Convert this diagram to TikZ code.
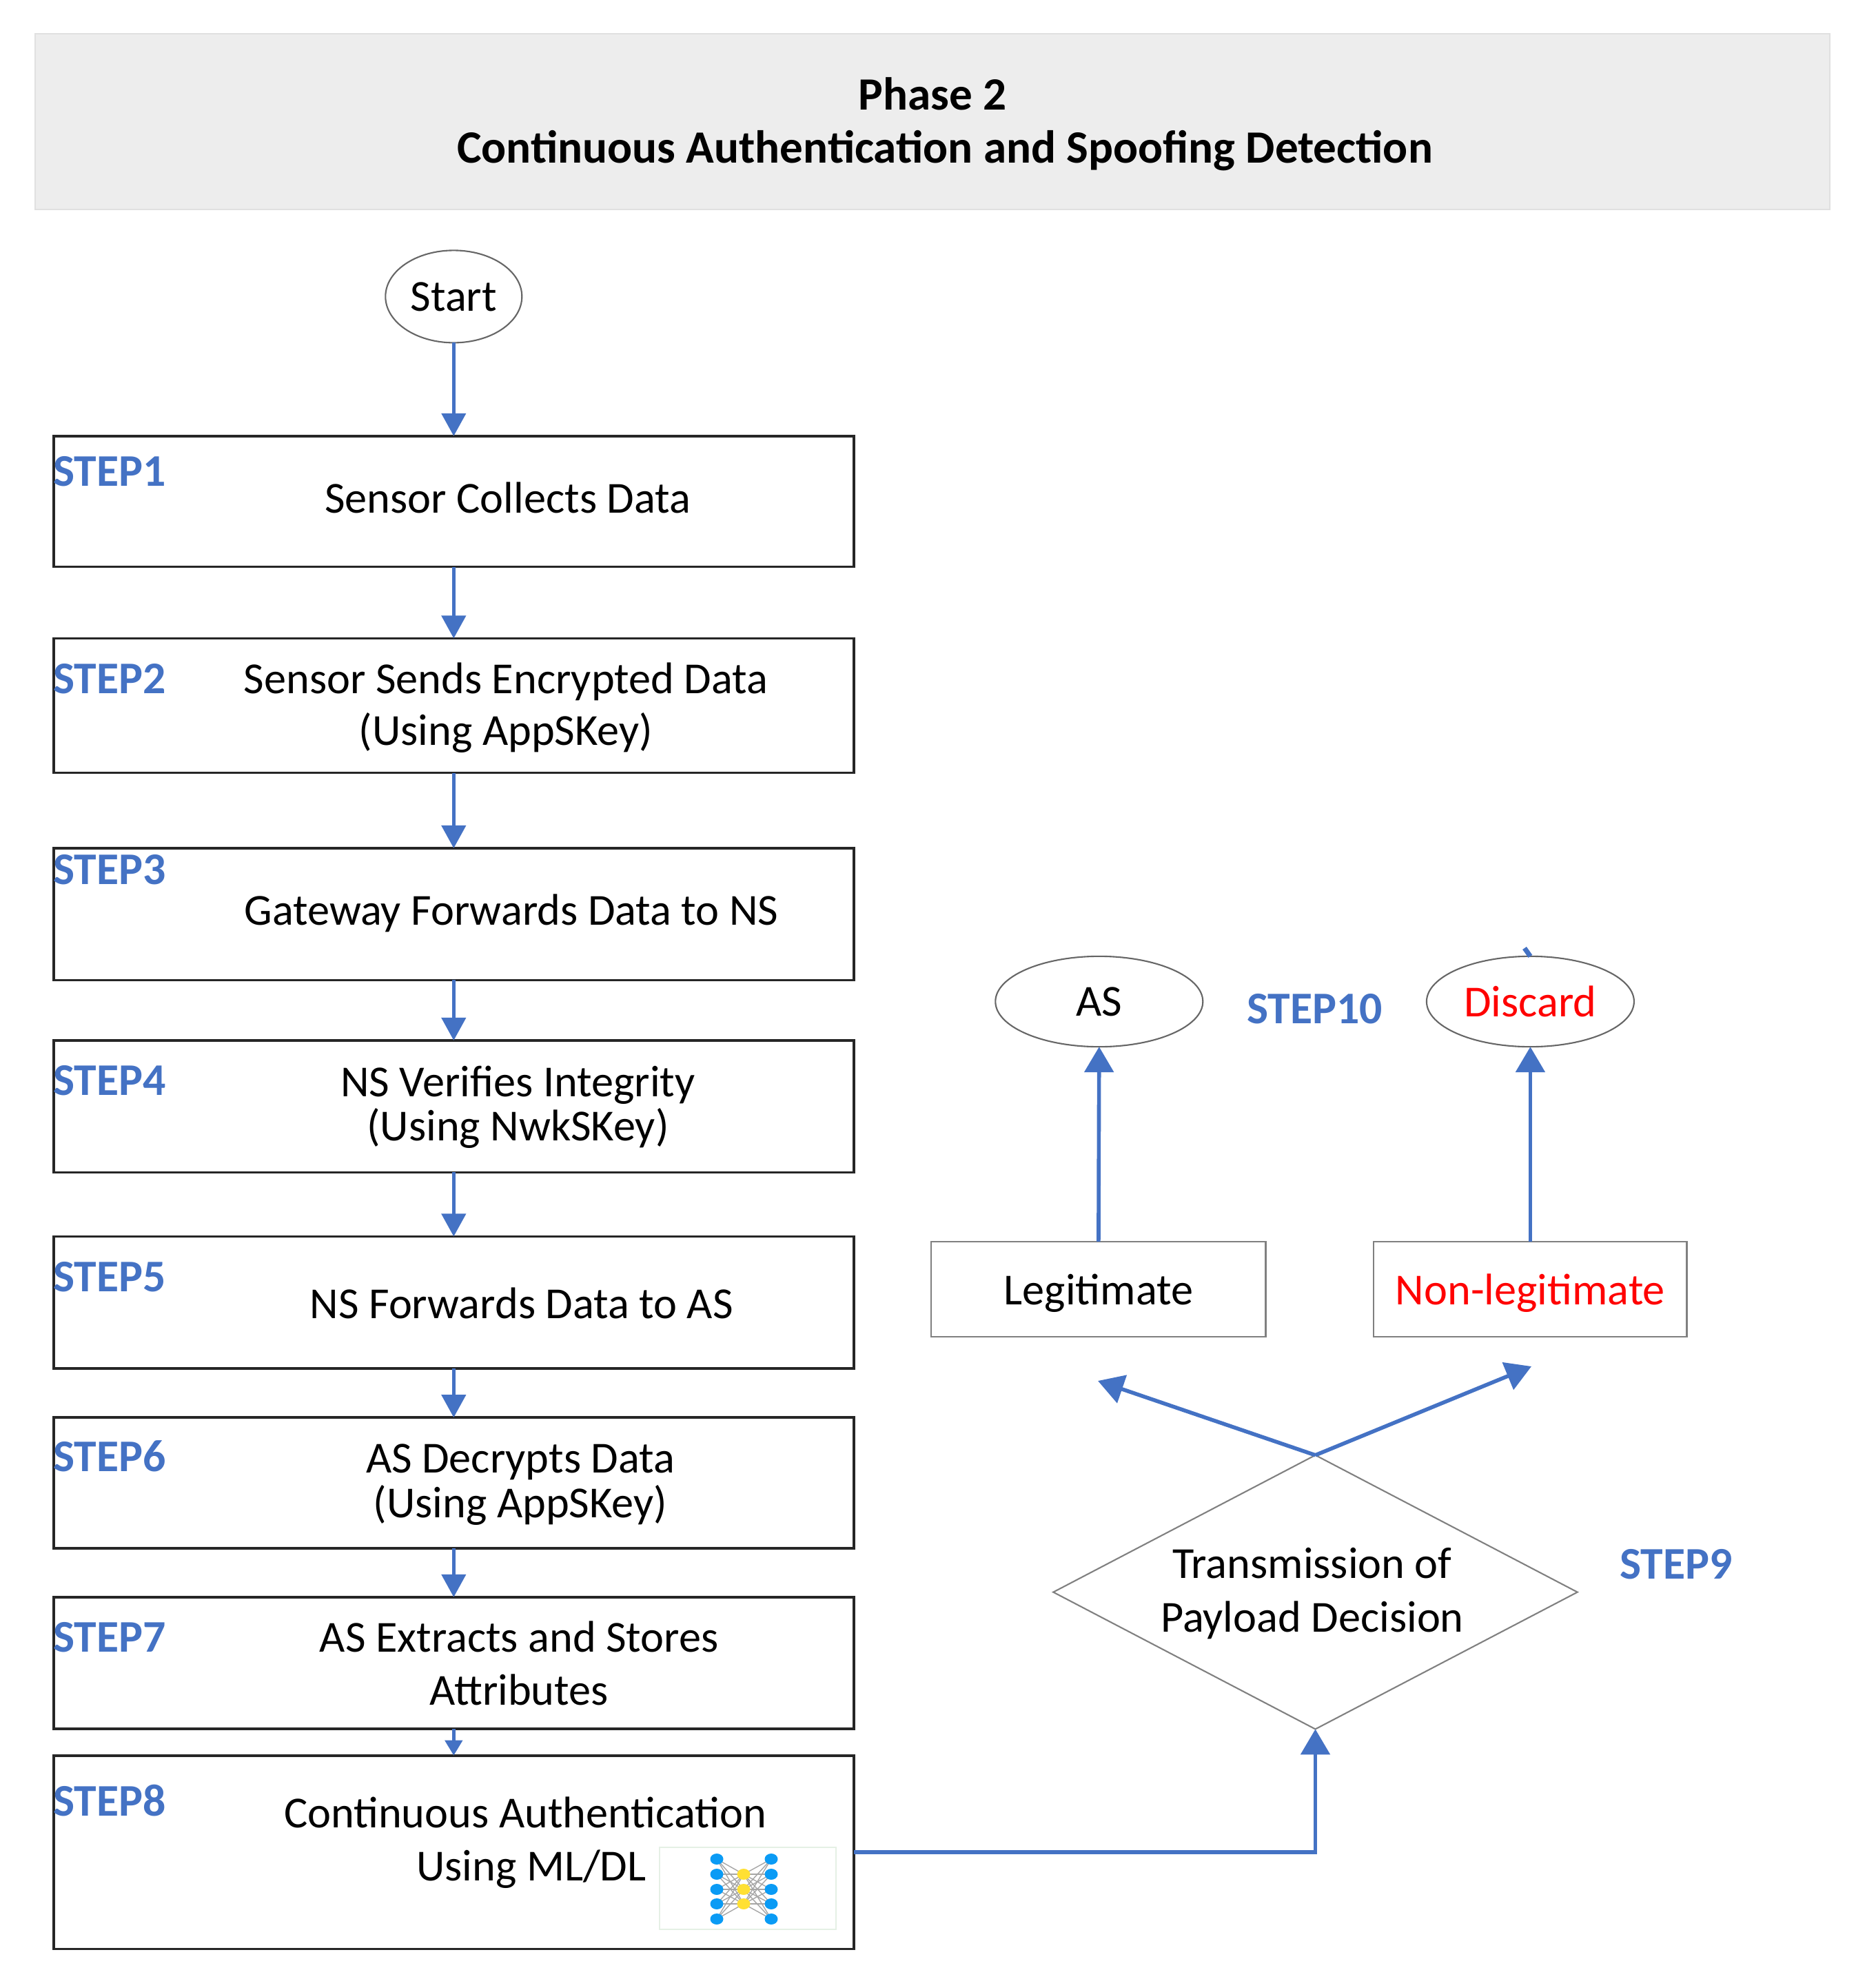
\documentclass[tikz,border=0pt]{standalone}
\usepackage{fontspec}
\setmainfont{Carlito}
\usetikzlibrary{arrows.meta,shapes.geometric}

\definecolor{stepblue}{HTML}{4472C4}
\definecolor{nnblue}{HTML}{0A9BF5}
\definecolor{nnyellow}{HTML}{FFE033}

\tikzset{
  bodyfont/.style = {font=\fontsize{18.3}{21}\selectfont},
  titlefont/.style = {font=\fontsize{19.1}{23}\selectfont\bfseries},
  stepbox/.style = {draw=black!85, line width=1.1pt, minimum width=11.61cm, inner sep=0pt, outer sep=0pt},
  steptext/.style = {bodyfont, align=center, inner sep=0pt},
  steplabel/.style = {font=\fontsize{18.7}{21}\selectfont\bfseries, text=stepblue, inner sep=0pt},
  endcap/.style = {draw=black!60, ellipse, line width=0.6pt, inner sep=0pt, outer sep=0pt, bodyfont},
  resultbox/.style = {draw=black!50, line width=0.6pt, minimum height=1.386cm, inner sep=0pt, outer sep=0pt, bodyfont},
  flow/.style = {draw=stepblue, line width=1.3pt, -{Triangle[length=0.33cm,width=0.35cm]}},
  shortflow/.style = {draw=stepblue, line width=1.3pt, -{Triangle[length=0.22cm,width=0.25cm]}},
  bigflow/.style = {draw=stepblue, line width=1.6pt, -{Triangle[length=0.37cm,width=0.42cm]}}
}

\begin{document}
\begin{tikzpicture}[x=1cm,y=-1cm]
\useasboundingbox (0,0) rectangle (27.21,28.59);

% the banner
\node[draw=black!12, fill=black!7, minimum width=26.04cm, minimum height=2.55cm, inner sep=0pt] (banner) at (13.53,1.765) {};
\node[titlefont, inner sep=0pt] (phase) at (13.53,1.36) {Phase 2};
\node[titlefont, inner sep=0pt] (title) at (13.71,2.19) {Continuous Authentication and Spoofing Detection};

% left column
\node[endcap, minimum width=1.98cm, minimum height=1.34cm] (start) at (6.583,4.304) {Start};

\node[stepbox, minimum height=1.897cm] (s1) at (6.583,7.277) {};
\node[stepbox, minimum height=1.951cm] (s2) at (6.583,10.24) {};
\node[stepbox, minimum height=1.915cm] (s3) at (6.583,13.267) {};
\node[stepbox, minimum height=1.915cm] (s4) at (6.583,16.057) {};
\node[stepbox, minimum height=1.915cm] (s5) at (6.583,18.902) {};
\node[stepbox, minimum height=1.897cm] (s6) at (6.583,21.52) {};
\node[stepbox, minimum height=1.915cm] (s7) at (6.583,24.136) {};
\node[stepbox, minimum height=2.808cm] (s8) at (6.583,26.881) {};

\node[steptext] (t1) at (7.368,7.222) {Sensor Collects Data};
\node[steptext] (t2) at (7.34,10.27) {Sensor Sends Encrypted Data\\[0.3pt](Using AppSKey)};
\node[steptext] (t3) at (7.42,13.25) {Gateway Forwards Data to NS};
\node[steptext] (t4) at (7.514,16.07) {NS Verifies Integrity\\[-2.7pt](Using NwkSKey)};
\node[steptext] (t5) at (7.568,18.91) {NS Forwards Data to AS};
\node[steptext] (t6) at (7.55,21.55) {AS Decrypts Data\\[-2.5pt](Using AppSKey)};
\node[steptext] (t7) at (7.532,24.14) {AS Extracts and Stores\\[0.8pt]Attributes};
\node[steptext] (t8) at (7.62,26.74) {Continuous Authentication\\[0.8pt]\hspace*{0.18cm}Using ML/DL};

\node[steplabel, anchor=west] (l1) at (0.766,6.839) {STEP1};
\node[steplabel, anchor=west] (l2) at (0.766,9.848) {STEP2};
\node[steplabel, anchor=west] (l3) at (0.766,12.62) {STEP3};
\node[steplabel, anchor=west] (l4) at (0.766,15.684) {STEP4};
\node[steplabel, anchor=west] (l5) at (0.766,18.529) {STEP5};
\node[steplabel, anchor=west] (l6) at (0.766,21.137) {STEP6};
\node[steplabel, anchor=west] (l7) at (0.766,23.763) {STEP7};
\node[steplabel, anchor=west] (l8) at (0.766,26.134) {STEP8};

\draw[flow] (start.south) -- (s1.north);
\draw[flow] (s1.south) -- (s2.north);
\draw[flow] (s2.south) -- (s3.north);
\draw[flow] (s3.south) -- (s4.north);
\draw[flow] (s4.south) -- (s5.north);
\draw[flow] (s5.south) -- (s6.north);
\draw[flow] (s6.south) -- (s7.north);
\draw[shortflow] (s7.south) -- (s8.north);

% the small network picture
\node[draw=green!40!black!10, line width=0.4pt, minimum width=2.56cm, minimum height=1.19cm, inner sep=0pt] (nnbox) at (10.85,27.405) {};
\foreach \i/\yy in {1/26.98,2/27.2,3/27.42,4/27.63,5/27.85} {
  \coordinate (nl\i) at (10.40,\yy);
  \coordinate (nr\i) at (11.19,\yy);
}
\foreach \j/\yy in {1/27.2,2/27.42,3/27.63} {
  \coordinate (nm\j) at (10.79,\yy);
}
\foreach \i in {1,...,5} {
  \foreach \j in {1,2,3} {
    \draw[black!35, line width=0.4pt] (nl\i) -- (nm\j) -- (nr\i);
  }
}
\foreach \i in {1,...,5} {
  \fill[nnblue] (nl\i) ellipse (0.095 and 0.08);
  \fill[nnblue] (nr\i) ellipse (0.095 and 0.08);
}
\foreach \j in {1,2,3} {
  \fill[nnyellow] (nm\j) ellipse (0.095 and 0.08);
}

% right side
\node[draw=black!50, diamond, shape aspect=1.91, line width=0.6pt, minimum width=7.605cm, minimum height=3.976cm, inner sep=0pt, outer sep=0pt] (decision) at (19.085,23.106) {};
\node[steptext] (dtext) at (19.04,23.13) {Transmission of\\[1.2pt]Payload Decision};
\node[resultbox, minimum width=4.851cm] (legit) at (15.939,18.711) {\raisebox{-0.22cm}[0pt][0pt]{Legitimate}};
\node[resultbox, minimum width=4.541cm, text=red] (nonlegit) at (22.204,18.711) {\raisebox{-0.22cm}[0pt][0pt]{Non-legitimate}};
\node[endcap, minimum width=3.01cm, minimum height=1.313cm] (as) at (15.948,14.535) {AS};
\node[endcap, minimum width=3.01cm, minimum height=1.313cm, text=red] (discard) at (22.204,14.535) {Discard};

\node[steplabel] (l9) at (24.32,22.705) {STEP9};
\node[steplabel] (l10) at (19.076,14.644) {STEP10};

\coordinate (toleg) at (15.93,20.04);
\coordinate (tonon) at (22.22,19.83);
\coordinate (stub) at (22.12,13.76);

\draw[bigflow] (s8.east) -| (decision.south);
\draw[bigflow] (decision.north) -- (toleg);
\draw[bigflow] (decision.north) -- (tonon);
\draw[bigflow] (legit.north) -- (as.south);
\draw[bigflow] (nonlegit.north) -- (discard.south);
\draw[stepblue, line width=2pt] (discard.north) -- (stub);
\end{tikzpicture}
\end{document}
